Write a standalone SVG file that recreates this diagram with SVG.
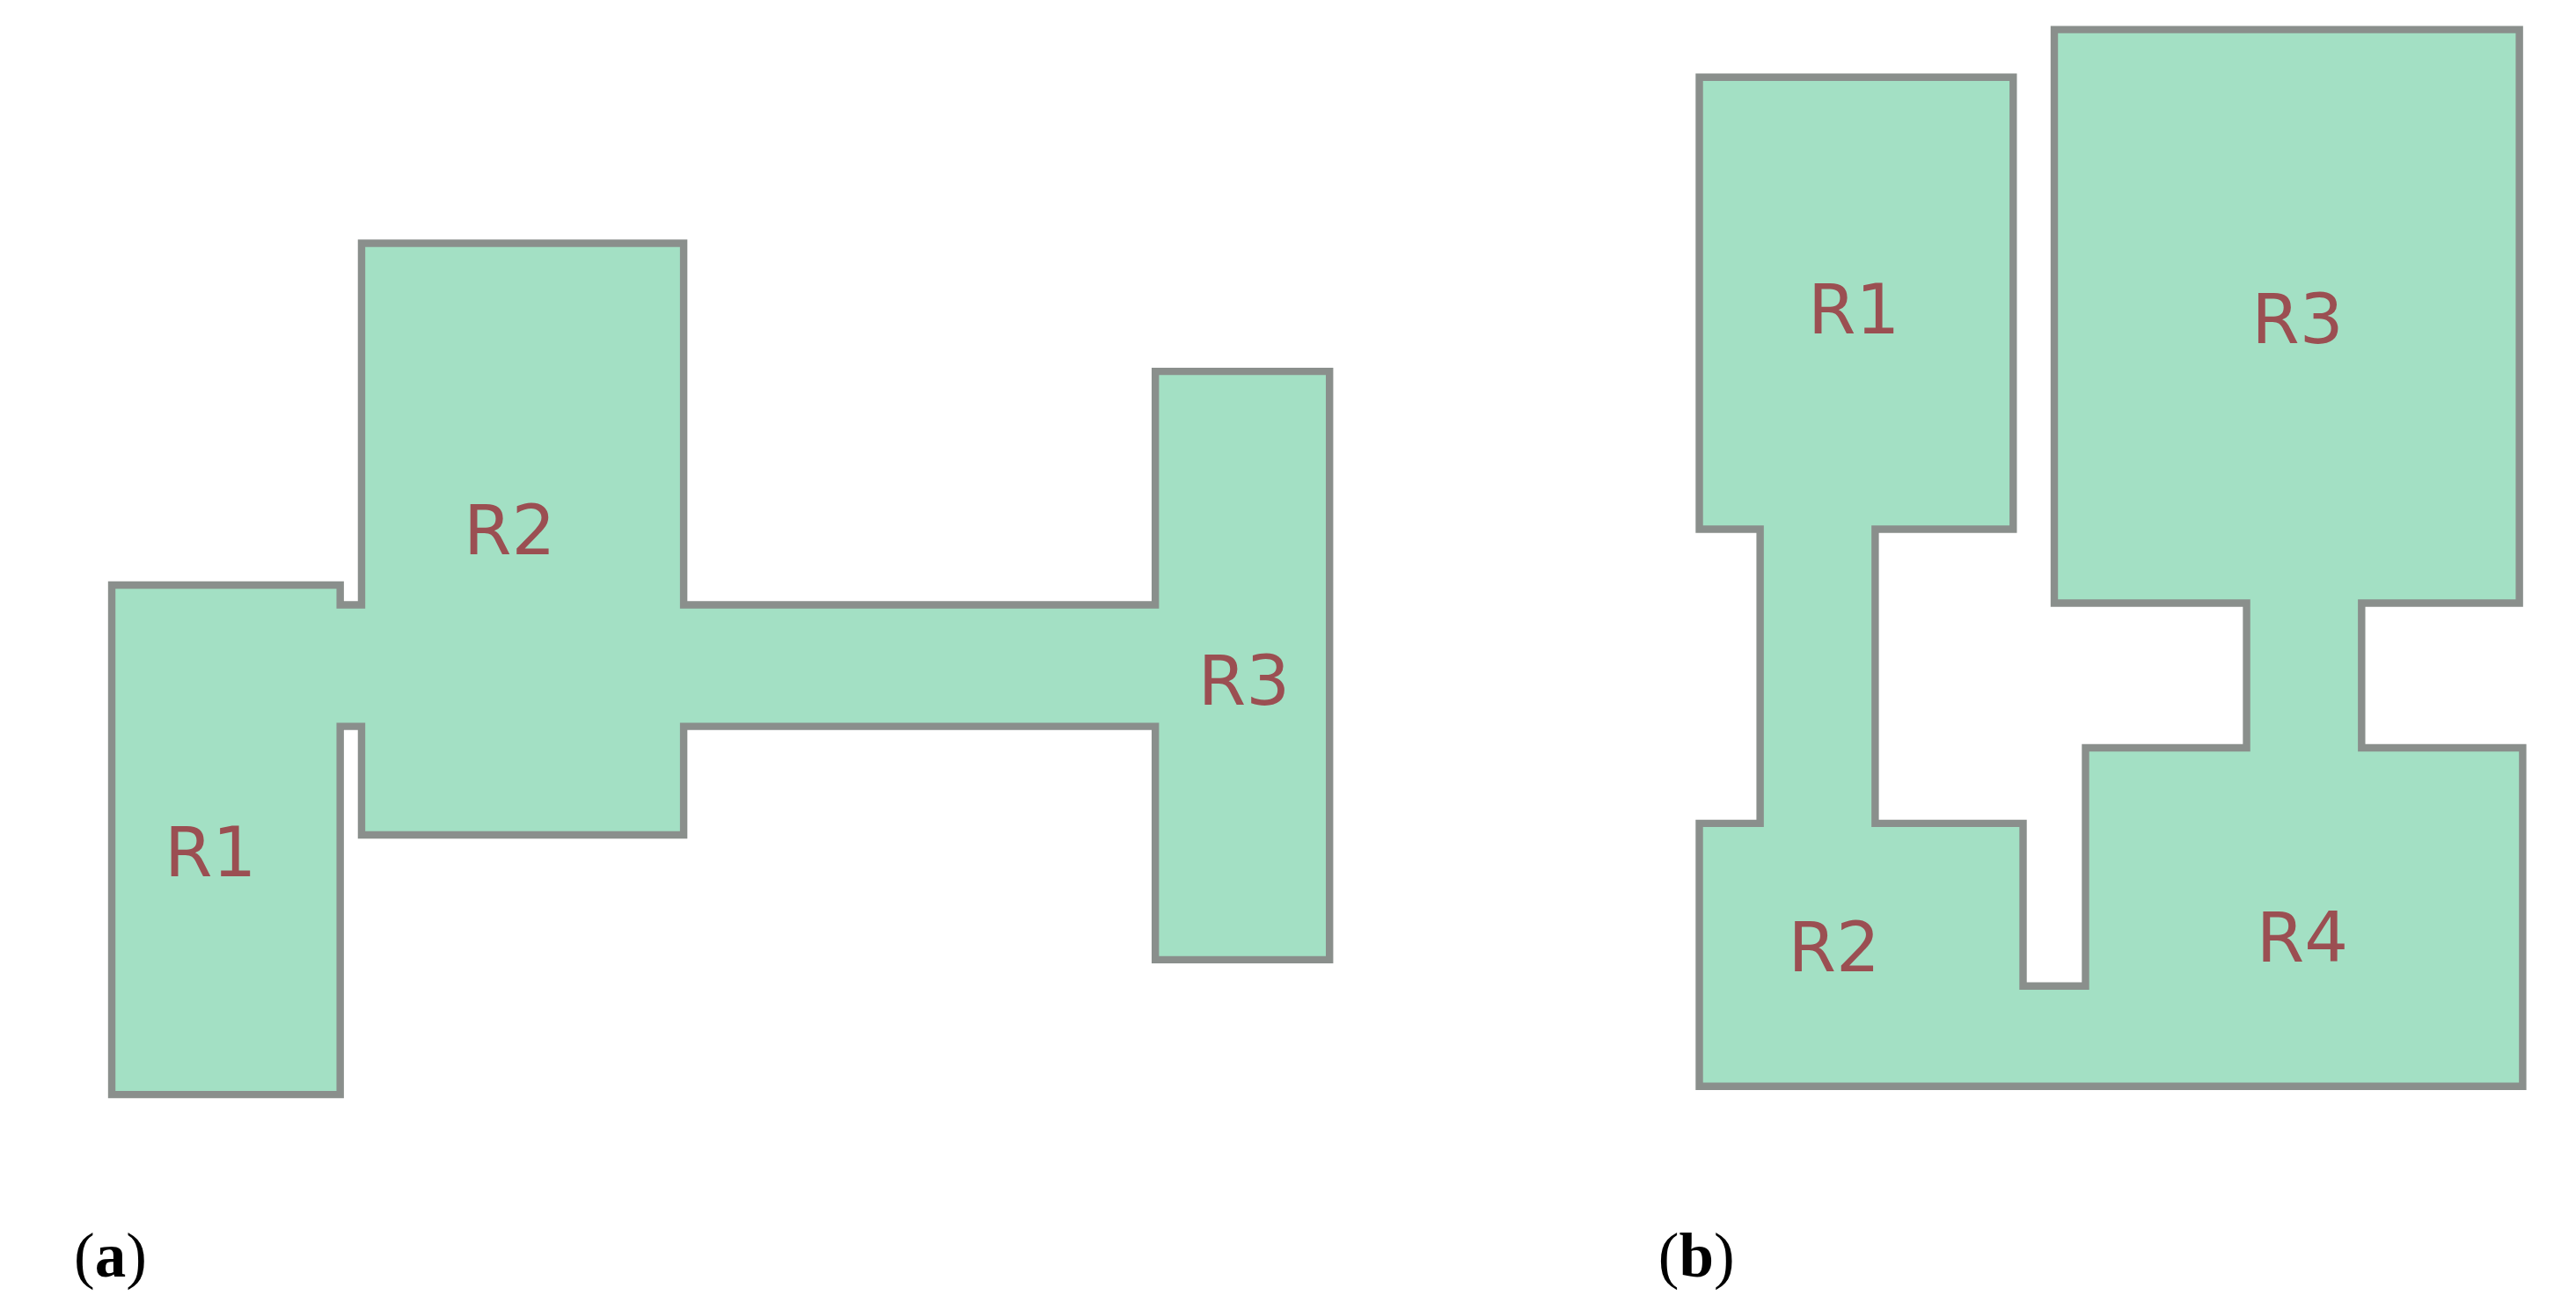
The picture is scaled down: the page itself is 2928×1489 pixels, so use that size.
<svg xmlns="http://www.w3.org/2000/svg" width="2928" height="1489" viewBox="0 0 2928 1489">
<style>
.room{fill:#a3e0c4;stroke:#8a8f8c;stroke-width:4.5}
.lbl{font-family:"DejaVu Sans",Verdana,sans-serif;font-size:42px;fill:#9b4f52;text-anchor:middle}
.cap{font-family:"Liberation Serif",serif;font-size:38px;fill:#000}
</style>
<rect width="2928" height="1489" fill="#fff"/>
<g transform="scale(1.868)">
<g id="panel-a">
<path class="room" d="M68,356 H207 V368 H220 V148 H416 V368 H703 V226 H809 V584 H703 V442 H416 V508 H220 V442 H207 V666 H68 Z"/>
<text class="lbl" x="128" y="533">R1</text>
<text class="lbl" x="310" y="337">R2</text>
<text class="lbl" x="757" y="429">R3</text>
</g>
<g id="panel-b">
<path class="room" d="M1034,47 H1225 V322 H1141 V501 H1231 V600 H1269 V455 H1367 V367 H1250 V18 H1533 V367 H1437 V455 H1535 V661 H1034 V501 H1071 V322 H1034 Z"/>
<text class="lbl" x="1128" y="203">R1</text>
<text class="lbl" x="1398" y="209">R3</text>
<text class="lbl" x="1116" y="591">R2</text>
<text class="lbl" x="1401" y="585">R4</text>
</g>
<g id="captions">
<text class="cap" x="45" y="777">(<tspan font-weight="bold">a</tspan>)</text>
<text class="cap" x="1009" y="777">(<tspan font-weight="bold">b</tspan>)</text>
</g>
</g>
</svg>
